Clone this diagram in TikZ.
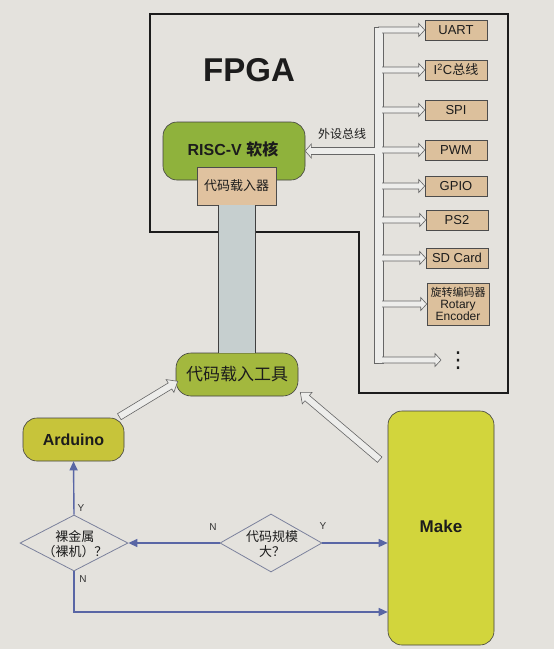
\documentclass[tikz,border=0pt]{standalone}
\usepackage{fontspec}
\setmainfont{Liberation Sans}
\newfontfamily\cjk{Noto Sans CJK SC}
\newfontfamily\symfont{DejaVu Sans}
\usetikzlibrary{calc,shapes.geometric,arrows.meta}
\definecolor{bgcol}{HTML}{E4E2DD}
\definecolor{riscgreen}{HTML}{8FB23C}
\definecolor{toolgreen}{HTML}{A3B83E}
\definecolor{ardy}{HTML}{C7C43A}
\definecolor{makey}{HTML}{D2D53C}
\definecolor{peach}{HTML}{E0C29F}
\definecolor{periph}{HTML}{DCC09C}
\definecolor{barfill}{HTML}{C6CFCF}
\definecolor{busfill}{HTML}{EDEDEB}
\definecolor{flowblue}{HTML}{5966A5}
\definecolor{dline}{HTML}{7B819C}
\definecolor{ink}{HTML}{1C1C1C}
\newcommand\fatarrow[5]{%
  \coordinate (fahead) at ($(#2)!#5!(#1)$);
  \filldraw[fatline] ($(#1)!#3!90:(#2)$) -- ($(fahead)!#3!-90:(#1)$) -- ($(fahead)!#4!-90:(#1)$) -- (#2)
    -- ($(fahead)!#4!90:(#1)$) -- ($(fahead)!#3!90:(#1)$) -- ($(#1)!#3!-90:(#2)$) -- cycle;
}
\begin{document}
\begin{tikzpicture}[x=1pt,y=-1pt,
  every node/.style={text=ink},
  fatline/.style={draw=black!60, fill=busfill, line width=0.6pt, line join=miter},
  rbox/.style={draw=black!75, line width=0.6pt, rounded corners=14pt, inner sep=0},
  pbox/.style={draw=black!70, fill=periph, line width=0.6pt, minimum width=62pt, minimum height=20pt, inner sep=0, font=\fontsize{13}{14}\selectfont},
  decision/.style={diamond, draw=dline, line width=0.8pt, aspect=2, inner sep=0},
  dtext/.style={align=center, inner sep=0, font=\fontsize{13}{15}\selectfont\cjk},
  flow/.style={draw=flowblue, line width=1.4pt, -{Triangle[length=9pt,width=8pt]}},
  yn/.style={font=\fontsize{10}{11}\selectfont, text=black!80},
]
\fill[bgcol] (0,0) rectangle (554,649);
\useasboundingbox (0,0) rectangle (554,649);

% FPGA outline
\draw[ink, line width=1.2pt] (150,14) -- (508,14) -- (508,393) -- (359,393) -- (359,232) -- (150,232) -- cycle;
\node (fpga) at (249,70) {\fontsize{33}{34}\selectfont\bfseries FPGA};

% core
\node[rbox, fill=riscgreen, minimum width=142pt, minimum height=58pt] (risc) at (234,151) {};
\node (risclabel) at (233,149) {\fontsize{16}{17}\selectfont\bfseries RISC-V {\cjk 软核}};
\node[draw=black!70, fill=peach, line width=0.6pt, minimum width=79pt, minimum height=38pt, inner sep=0] (loader) at (236.5,186)
  {\fontsize{13}{14}\selectfont\cjk 代码载入器};

% load tool
\node[rbox, fill=toolgreen, rounded corners=15pt, minimum width=122pt, minimum height=43pt] (tool) at (237,374.5)
  {\fontsize{17}{18}\selectfont\cjk 代码载入工具};

% gray bar between loader and tool
\coordinate (bl1) at ($(loader.south)+(-18.5,0)$);
\coordinate (br1) at ($(loader.south)+(18.5,0)$);
\coordinate (bl2) at (bl1 |- tool.north);
\coordinate (br2) at (br1 |- tool.north);
\fill[barfill] (bl1) rectangle (br2);
\draw[black!75, line width=0.6pt] (bl1) -- (bl2) (br1) -- (br2);

% peripherals
\node[pbox] (uart) at (456,30) {UART};
\node[pbox] (iic) at (456,70) {I\textsuperscript{2}C{\cjk 总线}};
\node[pbox] (spi) at (456,110) {SPI};
\node[pbox] (pwm) at (456,150) {PWM};
\node[pbox] (gpio) at (456,186) {GPIO};
\node[pbox] (ps2) at (457,220) {PS2};
\node[pbox] (sd) at (457,258) {SD Card};
\node[pbox, minimum height=42pt, align=center, font=\fontsize{12}{13}\selectfont] (rot) at (458,304)
  {{\fontsize{11}{12}\selectfont\cjk 旋转编码器}\\[-1pt]Rotary\\[-1pt]Encoder};
\node[inner sep=0] (dots) at (458,361) {\fontsize{22}{22}\selectfont\symfont ⋮};
\coordinate (dotend) at (441,360);

% bus
\coordinate (bustop) at (378.5,27);
\coordinate (busbot) at (378.5,363.5);
\filldraw[fatline] ($(bustop)+(-4.5,0)$) rectangle ($(busbot)+(4.5,0)$);
\foreach \n in {uart,iic,spi,pwm,gpio,ps2,sd,rot} {
  \coordinate (b\n) at (bustop |- \n.west);
  \fatarrow{b\n}{\n.west}{3pt}{6.5pt}{6pt}
}
\coordinate (bdots) at (bustop |- dotend);
\fatarrow{bdots}{dotend}{3pt}{6.5pt}{6pt}
\coordinate (brisc) at (bustop |- risc.east);
\fatarrow{brisc}{risc.east}{3.5pt}{7pt}{6pt}
\fill[busfill] ($(bustop)+(-3.9,0.6)$) rectangle ($(busbot)+(3.9,-0.6)$);
\node[font=\fontsize{12}{13}\selectfont\cjk] (buslabel) at (342,134) {外设总线};

% lower flow
\node[rbox, fill=ardy, minimum width=101pt, minimum height=43pt] (arduino) at (73.5,439.5)
  {\fontsize{16}{17}\selectfont\bfseries Arduino};
\node[rbox, fill=makey, minimum width=106pt, minimum height=234pt] (make) at (441,528) {};
\node (makelabel) at (441,526) {\fontsize{17}{18}\selectfont\bfseries Make};
\node[decision, minimum width=108pt, minimum height=56pt] (bare) at (74,543) {};
\node[dtext] (baretext) at (75,544) {裸金属\\（裸机）？};
\node[decision, minimum width=102pt, minimum height=58pt] (big) at (271,543) {};
\node[dtext] (bigtext) at (272,544) {代码规模\\大？};

\draw[flow] (big.west) -- (bare.east);
\node[yn] (n1) at (213,527) {N};
\draw[flow] (big.east) -- (big.east -| make.west);
\node[yn] (y1) at (323,526) {Y};
\draw[flow] (bare.north) -- (arduino.south);
\node[yn] (y2) at (81,508) {Y};
\coordinate (corner) at (bare.south |- 0,612);
\draw[flow] (bare.south) -- (corner) -- (corner -| make.west);
\node[yn] (n2) at (83,579) {N};

% hollow arrows to the load tool
\coordinate (a1) at ($(arduino.north east)+(-5,-1)$);
\coordinate (a2) at ($(tool.south west)+(2,-15)$);
\fatarrow{a1}{a2}{3.5pt}{7.5pt}{9pt}
\coordinate (m1) at ($(make.north west)+(-8,49)$);
\coordinate (m2) at ($(tool.south east)+(2,-4)$);
\fatarrow{m1}{m2}{3.5pt}{7.5pt}{9pt}
\end{tikzpicture}
\end{document}
